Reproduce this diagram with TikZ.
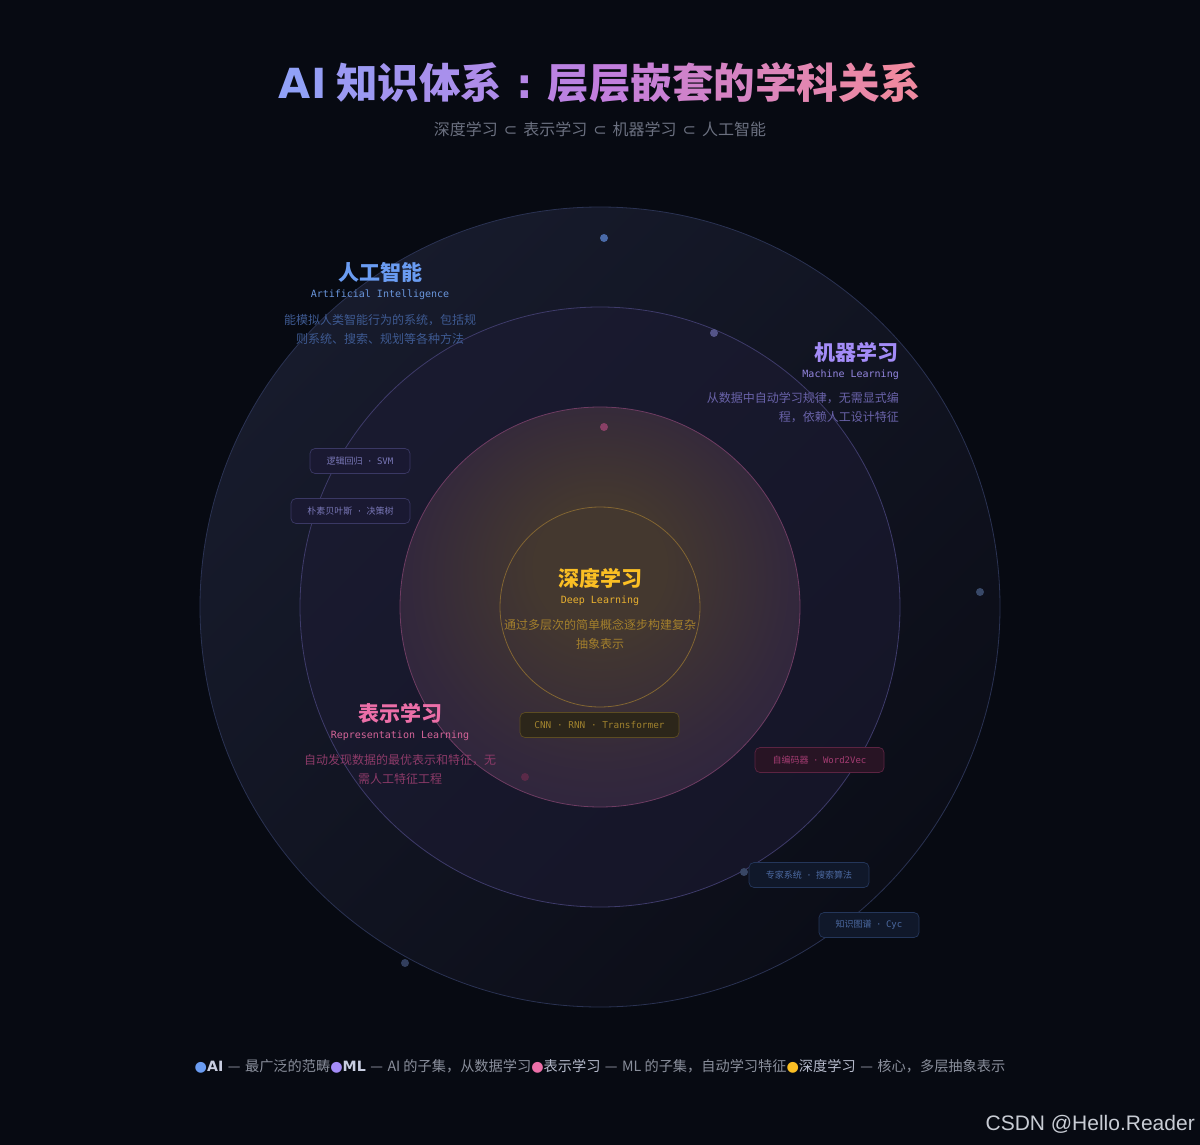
\documentclass[tikz,border=0pt]{standalone}
\usepackage{fontspec}
\setmainfont{Noto Sans CJK SC}
\setmonofont{DejaVu Sans Mono}
\newfontfamily\dvs{DejaVu Sans}
\newfontfamily\libsans{Liberation Sans}
\usetikzlibrary{shapes.geometric}
\definecolor{bgc}{HTML}{070A12}
\definecolor{aiTL}{HTML}{171B2C}
\definecolor{aiBR}{HTML}{0B0D17}
\definecolor{mlfill}{HTML}{1E1C36}
\definecolor{gA}{HTML}{44382F}
\definecolor{gB}{HTML}{33283C}
\definecolor{gC}{HTML}{2A2140}
\definecolor{gD}{HTML}{221C36}
\definecolor{aistroke}{HTML}{2A3252}
\definecolor{mlstroke}{HTML}{3E3B6A}
\definecolor{repstroke}{HTML}{6E3C62}
\definecolor{dlstroke}{HTML}{826532}
\definecolor{tB}{HTML}{8FA2F8}
\definecolor{tP}{HTML}{C07EE0}
\definecolor{tK}{HTML}{F28A9C}
\definecolor{subc}{HTML}{6B7080}
\definecolor{aic}{HTML}{6A9CF2}
\definecolor{aisub}{HTML}{6A96DC}
\definecolor{aidesc}{HTML}{3E5A92}
\definecolor{mlc}{HTML}{A48CF8}
\definecolor{mlsub}{HTML}{9486E0}
\definecolor{mldesc}{HTML}{6A63AA}
\definecolor{dlc}{HTML}{FBBF24}
\definecolor{dlsub}{HTML}{E8B030}
\definecolor{dldesc}{HTML}{A37F2C}
\definecolor{repc}{HTML}{EC6FA8}
\definecolor{repsub}{HTML}{D46498}
\definecolor{repdesc}{HTML}{8C3A68}
\definecolor{legc}{HTML}{8A8F9C}
\definecolor{legb}{HTML}{C8CDE0}
\definecolor{wm}{HTML}{C8CCD4}
\pgfdeclareradialshading{repglow}{\pgfpoint{0bp}{6bp}}{color(0bp)=(gA); color(8bp)=(gA); color(24bp)=(gB); color(36bp)=(gC); color(50bp)=(gD)}
\newcommand\tfs[1]{\fontsize{#1}{#1}\selectfont}
\newcommand\sep{\hspace{4.5pt}{\ttfamily ·}\hspace{4.5pt}}
\tikzset{
  ring/.style={circle, inner sep=0pt, line width=0.8pt},
  dot/.style={circle, inner sep=0pt, minimum size=8pt},
  tagbox/.style={draw, rounded corners=5pt, line width=0.7pt, inner sep=0pt, minimum height=25pt, font=\tfs{9}},
  ttl/.style={inner sep=0pt, font=\bfseries\tfs{21}},
  sub/.style={inner sep=0pt, font=\ttfamily\tfs{10}},
  desc/.style={inner sep=0pt, font=\fontsize{12}{19}\selectfont, align=center}
}
\begin{document}
\begin{tikzpicture}[x=1pt, y=-1pt]
\fill[bgc] (0,0) rectangle (1200,1145);
\useasboundingbox (0,0) rectangle (1200,1145);
% title
\node[inner sep=0pt, font=\bfseries\tfs{41.5}] (title) at (600,83) {%
{\dvs\textcolor{tP!4!tB}{A}\textcolor{tP!12!tB}{I}} \textcolor{tP!24!tB}{知}\textcolor{tP!38!tB}{识}\textcolor{tP!50!tB}{体}\textcolor{tP!62!tB}{系}{\dvs\ \textcolor{tP!78!tB}{:}\ }\textcolor{tP!90!tB}{层}\textcolor{tK!4!tP}{层}\textcolor{tK!16!tP}{嵌}\textcolor{tK!30!tP}{套}\textcolor{tK!42!tP}{的}\textcolor{tK!56!tP}{学}\textcolor{tK!68!tP}{科}\textcolor{tK!82!tP}{关}\textcolor{tK!94!tP}{系}};
\node[inner sep=0pt, font=\tfs{16}, text=subc] (subtitle) at (600,129) {深度学习\hspace{6pt}{\dvs ⊂}\hspace{6pt}表示学习\hspace{6pt}{\dvs ⊂}\hspace{6pt}机器学习\hspace{6pt}{\dvs ⊂}\hspace{6pt}人工智能};
% rings
\node[ring, minimum size=800pt, draw=aistroke, shade, top color=aiTL, bottom color=aiBR, shading angle=45] (ai) at (600,607) {};
\node[ring, minimum size=600pt, draw=mlstroke, fill=mlfill, fill opacity=0.5] (ml) at (600,607) {};
\node[ring, minimum size=400pt, draw=repstroke, shade, shading=repglow] (rep) at (600,607) {};
\node[ring, minimum size=200pt, draw=dlstroke] (dl) at (600,607) {};
% orbit dots
\node[dot, fill={rgb,255:red,74;green,106;blue,168}] (d1) at (604,238) {};
\node[dot, fill={rgb,255:red,84;green,84;blue,136}] (d2) at (714,333) {};
\node[dot, fill={rgb,255:red,56;green,72;blue,104}] (d3) at (980,592) {};
\node[dot, fill={rgb,255:red,50;green,62;blue,92}] (d4) at (405,963) {};
\node[dot, fill={rgb,255:red,138;green,64;blue,102}] (d5) at (604,427) {};
\node[dot, fill={rgb,255:red,90;green,42;blue,72}] (d6) at (525,777) {};
\node[dot, fill={rgb,255:red,56;green,70;blue,100}] (d7) at (744,872) {};
% AI labels
\node[ttl, text=aic] (aiT) at (380,272) {人工智能};
\node[sub, text=aisub] (aiS) at (380,295) {Artificial Intelligence};
\node[desc, text=aidesc] (aiD) at (380,329) {能模拟人类智能行为的系统，包括规\\则系统、搜索、规划等各种方法};
% ML labels
\node[ttl, text=mlc, anchor=east] (mlT) at (899,352) {机器学习};
\node[sub, text=mlsub, anchor=east] (mlS) at (899,375) {Machine Learning};
\node[desc, text=mldesc, anchor=east, align=right] (mlD) at (899,408) {从数据中自动学习规律，无需显式编\\程，依赖人工设计特征};
% DL labels
\node[ttl, text=dlc] (dlT) at (600,578) {深度学习};
\node[sub, text=dlsub] (dlS) at (600,601) {Deep Learning};
\node[desc, text=dldesc] (dlD) at (600,634) {通过多层次的简单概念逐步构建复杂\\抽象表示};
% Rep labels
\node[ttl, text=repc] (repT) at (400,713) {表示学习};
\node[sub, text=repsub] (repS) at (400,736) {Representation Learning};
\node[desc, text=repdesc] (repD) at (400,769) {自动发现数据的最优表示和特征，无\\需人工特征工程};
% tags
\node[tagbox, minimum width=100pt, draw={rgb,255:red,58;green,56;blue,100}, fill={rgb,255:red,26;green,25;blue,50}, text={rgb,255:red,122;green,120;blue,184}] (t1) at (360,461) {逻辑回归\sep{\ttfamily SVM}};
\node[tagbox, minimum width=119pt, draw={rgb,255:red,58;green,56;blue,100}, fill={rgb,255:red,26;green,25;blue,50}, text={rgb,255:red,122;green,120;blue,184}] (t2) at (350.5,511) {朴素贝叶斯\sep 决策树};
\node[tagbox, minimum width=159pt, draw={rgb,255:red,92;green,76;blue,34}, fill={rgb,255:red,44;green,38;blue,26}, text={rgb,255:red,160;green,130;blue,46}, font=\ttfamily\tfs{9.4}] (t3) at (599.5,725) {CNN · RNN · Transformer};
\node[tagbox, minimum width=129pt, draw={rgb,255:red,92;green,36;blue,66}, fill={rgb,255:red,40;green,20;blue,36}, text={rgb,255:red,164;green,60;blue,114}] (t4) at (819.5,760) {自编码器\sep{\ttfamily Word2Vec}};
\node[tagbox, minimum width=120pt, draw={rgb,255:red,36;green,54;blue,90}, fill={rgb,255:red,16;green,24;blue,42}, text={rgb,255:red,76;green,106;blue,162}] (t5) at (809,875) {专家系统\sep 搜索算法};
\node[tagbox, minimum width=100pt, draw={rgb,255:red,36;green,54;blue,90}, fill={rgb,255:red,16;green,24;blue,42}, text={rgb,255:red,76;green,106;blue,162}] (t6) at (869,925) {知识图谱\sep{\ttfamily Cyc}};
% legend
\node[inner sep=0pt, font=\tfs{14.2}, text=legc] (legend) at (600,1066) {%
{\dvs\textcolor{aic}{●}}{\dvs\bfseries\textcolor{legb}{AI}}\hspace{4.5pt}—\hspace{4.5pt}最广泛的范畴{\dvs\textcolor{mlc}{●}}{\dvs\bfseries\textcolor{legb}{ML}}\hspace{4.5pt}—\hspace{4.5pt}AI 的子集，从数据学习{\dvs\textcolor{repc}{●}}\textcolor{legb!70!legc}{表示学习}\hspace{4.5pt}—\hspace{4.5pt}ML 的子集，自动学习特征{\dvs\textcolor{dlc}{●}}\textcolor{legb!70!legc}{深度学习}\hspace{4.5pt}—\hspace{4.5pt}核心，多层抽象表示};
\node[inner sep=0pt, font=\libsans\tfs{21}, text=wm, anchor=east] (wmk) at (1195,1124) {CSDN @Hello.Reader};
\end{tikzpicture}
\end{document}
